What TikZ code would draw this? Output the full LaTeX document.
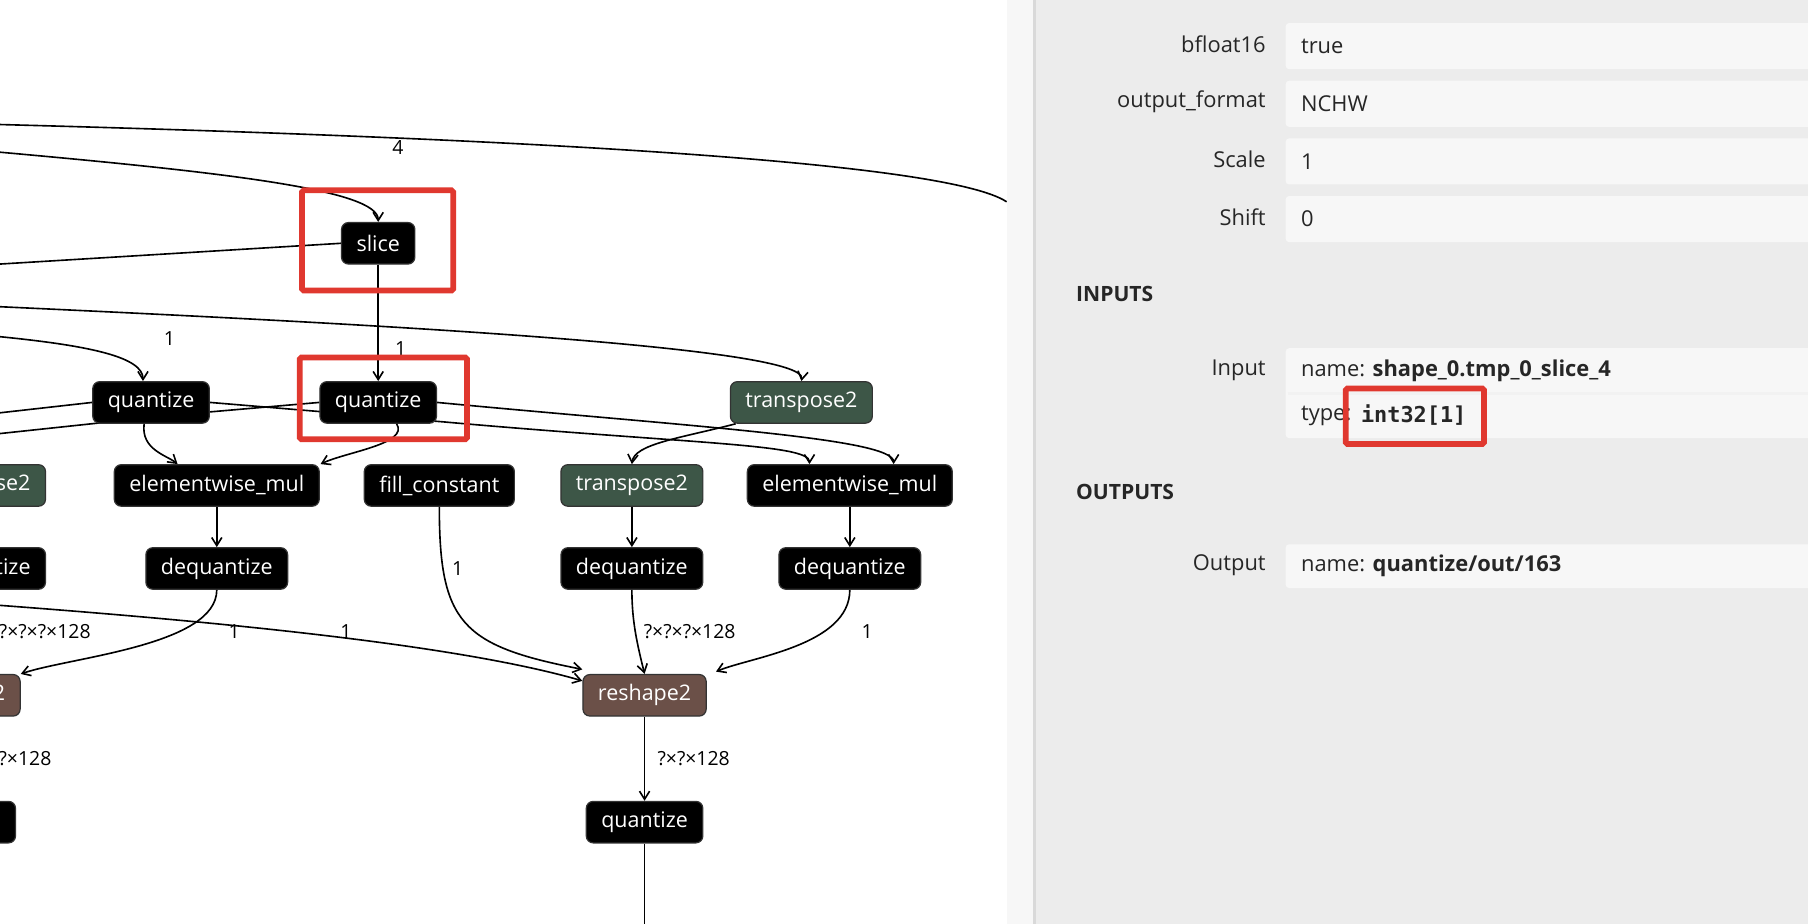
\documentclass[tikz,border=0pt]{standalone}
\usepackage{fontspec}
\setmainfont{Open Sans}
\newfontfamily\monob{DejaVu Sans Mono}
\usetikzlibrary{arrows.meta,backgrounds}
\definecolor{nodegreen}{HTML}{3D5647}
\definecolor{nodebrown}{HTML}{6B5048}
\definecolor{panelgray}{HTML}{ECECEC}
\definecolor{redmark}{HTML}{E0382F}
\tikzset{
  op/.style={draw=black!80, line width=0.6pt, fill=black, text=white, rounded corners=0.12cm,
     minimum height=0.72cm, inner xsep=0.26cm, inner ysep=0pt, font=\fontsize{10.6}{12}\selectfont},
  opgreen/.style={op, fill=nodegreen},
  opbrown/.style={op, fill=nodebrown},
  edge/.style={line width=0.8pt, -{Straight Barb[length=4pt,width=5pt]}},
  plain/.style={line width=0.8pt},
  elab/.style={font=\fontsize{9.6}{11}\selectfont, inner sep=0pt},
  plab/.style={font=\fontsize{10.8}{12}\selectfont, text=black!85, inner sep=0pt},
  phead/.style={font=\bfseries\fontsize{10.4}{12}\selectfont, text=black!85, inner sep=0pt, anchor=west},
  fieldbox/.style={fill=white!60!panelgray, draw=none, rounded corners=0.06cm},
  redbox/.style={draw=redmark, line width=0.1cm, rounded corners=0.03cm},
}
\begin{document}
\begin{tikzpicture}[x=0.02cm,y=-0.02cm]
\useasboundingbox (0,0) rectangle (1568,801);
\begin{scope}[on background layer]
\fill[white] (0,0) rectangle (873,801);
\end{scope}
% nodes
\node[op] (slice) at (328,211) {slice};
\node[op] (q1) at (131,349) {quantize};
\node[op] (q2) at (328,349) {quantize};
\node[opgreen] (t1) at (695,349) {transpose2};
\node[opgreen, anchor=east] (tp) at (40,421) {transpose2};
\node[op] (em1) at (188,421) {elementwise\_mul};
\node[op] (fc) at (381,421) {fill\_constant};
\node[opgreen] (t2) at (548,421) {transpose2};
\node[op] (em2) at (737,421) {elementwise\_mul};
\node[op, anchor=east] (dqp) at (40,493) {dequantize};
\node[op] (dq1) at (188,493) {dequantize};
\node[op] (dq2) at (548,493) {dequantize};
\node[op] (dq3) at (737,493) {dequantize};
\node[opbrown, anchor=east] (rsp) at (18,603) {reshape2};
\node[opbrown] (rs) at (559,603) {reshape2};
\node[op, anchor=east] (qp) at (14,713) {quantize};
\node[op] (q3) at (559,713) {quantize};
\coordinate (l1) at (0,108);
\coordinate (r1) at (873,175);
\coordinate (l2) at (0,132);
\coordinate (l3) at (0,229);
\coordinate (l4) at (0,266);
\coordinate (l5) at (0,292);
\coordinate (l6) at (0,358);
\coordinate (l7) at (0,376);
\coordinate (l8) at (0,525);
\coordinate (bot) at (559,801);
\begin{scope}[on background layer]
\draw[plain] (l1) .. controls (450,120) and (820,140) .. (r1);
\draw[edge] (l2) .. controls (200,150) and (328,165) .. (slice.north);
\draw[plain] (l3) -- (slice.west);
\draw[edge] (l4) .. controls (300,280) and (700,300) .. (t1.north);
\draw[edge] (l5) .. controls (80,300) and (124,310) .. ([xshift=-0.14cm]q1.north);
\draw[plain] (l6) -- (q1.west);
\draw[plain] (l7) -- (150,360) -- (q2.west);
\draw[edge] (q1.east) -- (386,366) .. controls (600,385) and (702,385) .. ([xshift=-0.7cm]em2.north);
\draw[edge] (q2.east) .. controls (600,370) and (775,380) .. ([xshift=0.76cm]em2.north);
\end{scope}
\draw[edge] (slice.south) -- (q2.north) node[elab, pos=0.72, right=8pt] {1};
\node[elab] (lab4) at (345,128) {4};
\node[elab] (lab1a) at (147,294) {1};
\draw[edge] ([xshift=-0.12cm]q1.south) .. controls (122,390) and (145,395) .. ([xshift=-0.68cm]em1.north);
\draw[edge] ([xshift=0.32cm]q2.south) .. controls (355,385) and (300,392) .. ([xshift=1.8cm]em1.north);
\draw[edge] ([xshift=-1.14cm]t1.south) .. controls (590,380) and (550,385) .. (t2.north);
\draw[edge] (em1) -- (dq1);
\draw[edge] (t2) -- (dq2);
\draw[edge] (em2) -- (dq3);
\draw[edge] (dq1.south) .. controls (188,560) and (60,570) .. (rsp.north east);
\node[elab] (lab1b) at (203,548) {1};
\node[elab, anchor=east] (labx) at (79,548) {?×?×?×128};
\draw[edge] (l8) .. controls (200,540) and (400,560) .. ([yshift=-0.12cm]rs.north west);
\node[elab] (lab1c) at (300,548) {1};
\draw[edge] (fc.south) .. controls (381,540) and (400,560) .. ([yshift=0.08cm]rs.north west);
\node[elab] (lab1d) at (397,493) {1};
\draw[edge] (dq2.south) .. controls (548,540) and (553,560) .. (rs.north);
\node[elab, anchor=west] (lab2) at (558,548) {?×?×?×128};
\draw[edge] (dq3.south) .. controls (737,560) and (650,570) .. ([xshift=0.16cm,yshift=0.04cm]rs.north east);
\node[elab] (lab1e) at (752,548) {1};
\draw[edge] (rs) -- (q3) node[elab, midway, anchor=west, xshift=6pt] {?×?×128};
\node[elab, anchor=east] (lab3) at (45,658) {?×128};
\draw[plain] (q3.south) -- (bot);
% red highlight boxes
\draw[redbox] (262,165) rectangle (393,252);
\draw[redbox] (260,310) rectangle (405,381);
% panel
\fill[white!60!panelgray] (873,0) rectangle (897,801);
\fill[panelgray] (898,0) rectangle (1568,801);
\draw[black!15, line width=0.06cm] (897,0) -- (897,801);
\foreach \y/\k/\v in {40/bfloat16/true, 90/output\_format/NCHW, 140/Scale/1, 190/Shift/0}{
  \fill[fieldbox] (1115,\y-20) rectangle (1580,\y+20);
  \node[plab, anchor=east] at (1098,\y-2) {\k};
  \node[plab, anchor=west] at (1128,\y) {\v};
}
\node[phead] (hin) at (933,255) {INPUTS};
\node[phead] (hout) at (933,427) {OUTPUTS};
\fill[fieldbox] (1115,302) rectangle (1580,380);
\draw[panelgray!70!white, line width=0.05cm] (1117,341) -- (1568,341);
\node[plab, anchor=east] (kin) at (1098,321) {Input};
\node[plab, anchor=west] (vin) at (1128,322) {name: \textbf{shape\_0.tmp\_0\_slice\_4}};
\node[plab, anchor=west] (vty) at (1128,361) {type:};
\node[plab, anchor=west] (vint) at (1180,360) {\monob\bfseries int32[1]};
\draw[redbox] (1167,337) rectangle (1287,385);
\fill[fieldbox] (1115,472) rectangle (1580,510);
\node[plab, anchor=east] (kout) at (1098,490) {Output};
\node[plab, anchor=west] (vout) at (1128,491) {name: \textbf{quantize/out/163}};
\end{tikzpicture}
\end{document}
